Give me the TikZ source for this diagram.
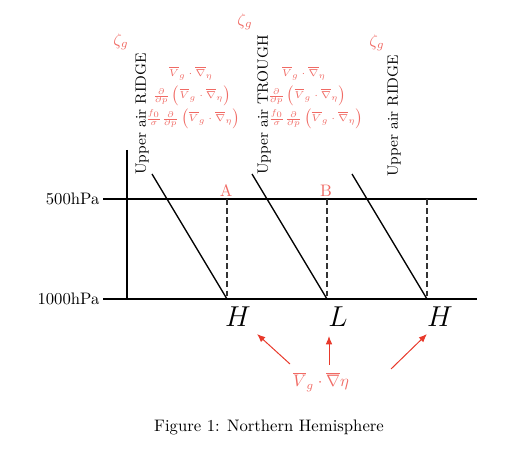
\documentclass[tikz,border=0pt]{standalone}
\usetikzlibrary{arrows.meta}
\definecolor{salmon}{HTML}{F06A64}
\definecolor{arrowred}{HTML}{E8392B}
\tikzset{
  level/.style={thick},
  dashline/.style={thick,dash pattern=on 3.5pt off 2pt,black!80},
  formula/.style={text=salmon,font=\fontsize{6.3}{7}\selectfont,inner sep=0pt},
  wave/.style={rotate=90,anchor=west,font=\small,inner sep=0pt},
  flow/.style={arrowred,semithick,-{Latex[length=5pt,width=4pt]}}
}
\begin{document}
\begin{tikzpicture}[x=0.6pt,y=-0.6pt]
\useasboundingbox (0,0) rectangle (522,468);

% pressure levels
\coordinate (p5l) at (103,199);
\coordinate (p5r) at (477,199);
\coordinate (p1l) at (103,299);
\coordinate (p1r) at (477,299);
\draw[level] (p5l) -- (p5r);
\draw[level] (p1l) -- (p1r);
\node[anchor=east,inner sep=2pt] (l500) at (p5l) {500hPa};
\node[anchor=east,inner sep=2pt] (l1000) at (p1l) {1000hPa};
\coordinate (axtop) at (127,150);
\coordinate (axbot) at (127,299);
\draw[level] (axtop) -- (axbot);

% tilted axes and their surface points
\foreach \x/\n in {152/a,252/b,352/c}{
  \coordinate (top\n) at (\x,174);
  \coordinate (sfc\n) at (\x+75,299);
  \coordinate (mid\n) at (\x+75,199);
  \draw[level] (top\n) -- (sfc\n);
  \draw[dashline] (mid\n) -- (sfc\n);
}

\node[text=salmon] (ptA) at (226,191) {A};
\node[text=salmon] (ptB) at (326,191) {B};

\node[wave] (ridge1) at (142,175) {Upper air RIDGE};
\node[wave] (trough) at (264,175) {Upper air TROUGH};
\node[wave] (ridge2) at (394,177) {Upper air RIDGE};

\node[text=salmon] (zeta1) at (121,42) {$\zeta_g$};
\node[text=salmon] (zeta2) at (245,22) {$\zeta_g$};
\node[text=salmon] (zeta3) at (377,43) {$\zeta_g$};

\node[formula] (adv1) at (191,73) {$\overline{V}_g\cdot\overline{\nabla}_\eta$};
\node[formula] (dadv1) at (192,96) {$\frac{\partial}{\partial p}\left(\overline{V}_g\cdot\overline{\nabla}_\eta\right)$};
\node[formula] (fadv1) at (193,119) {$\frac{f_0}{\sigma}\frac{\partial}{\partial p}\left(\overline{V}_g\cdot\overline{\nabla}_\eta\right)$};
\node[formula] (adv2) at (304,73) {$\overline{V}_g\cdot\overline{\nabla}_\eta$};
\node[formula] (dadv2) at (307,96) {$\frac{\partial}{\partial p}\left(\overline{V}_g\cdot\overline{\nabla}_\eta\right)$};
\node[formula] (fadv2) at (316,119) {$\frac{f_0}{\sigma}\frac{\partial}{\partial p}\left(\overline{V}_g\cdot\overline{\nabla}_\eta\right)$};

\node[font=\LARGE] (high1) at (238,317) {$H$};
\node[font=\LARGE] (low) at (338,317) {$L$};
\node[font=\LARGE] (high2) at (440,317) {$H$};

\node[text=salmon] (vgrad) at (321,382) {$\overline{V}_g\cdot\overline{\nabla}\eta$};
\coordinate (t1) at (290,364);
\coordinate (t2) at (329,365);
\coordinate (t3) at (391,369);
\coordinate (h1) at (257,334);
\coordinate (h2) at (329,336);
\coordinate (h3) at (427,334);
\draw[flow] (t1) -- (h1);
\draw[flow] (t2) -- (h2);
\draw[flow] (t3) -- (h3);

\node (caption) at (269,427) {Figure 1: Northern Hemisphere};
\end{tikzpicture}
\end{document}
